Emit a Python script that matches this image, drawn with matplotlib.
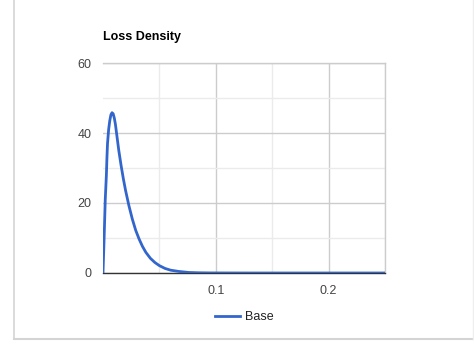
import matplotlib
matplotlib.use('Agg')
import matplotlib.pyplot as plt
from matplotlib.lines import Line2D

# loss values (x) and density (y)
loss = [0, 0.001, 0.002, 0.003, 0.0035, 0.004, 0.005, 0.006, 0.007, 0.008,
        0.009, 0.010, 0.011, 0.012, 0.013, 0.014, 0.016, 0.018, 0.020, 0.023,
        0.026, 0.029, 0.032, 0.035, 0.038, 0.042, 0.046, 0.050, 0.055, 0.060,
        0.067, 0.076, 0.085, 0.095, 0.110, 0.130, 0.160, 0.200, 0.250]
density = [0, 10, 21, 28, 33, 37, 41, 43.5, 45.2, 45.8,
           45.5, 44.3, 42.5, 40, 37.5, 35, 30.8, 27.0, 23.6, 19.2,
           15.4, 12.2, 9.7, 7.6, 5.9, 4.2, 3.0, 2.1, 1.3, 0.8,
           0.45, 0.15, 0.06, 0.02, 0.01, 0, 0, 0, 0]
series_name = 'Base'
title = 'Loss Density'
x_ticks = [0.1, 0.2]
x_minor = [0.05, 0.15, 0.25]
y_ticks = [0, 20, 40, 60]
y_minor = [10, 30, 50]

plt.rcParams['font.family'] = ['Liberation Sans', 'DejaVu Sans']

fig = plt.figure(figsize=(4.74, 3.46), dpi=100)
ax = fig.add_axes([0.2173, 0.2110, 0.5949, 0.6069])

ax.plot(loss, density, color='#3366cc', lw=2, solid_capstyle='butt', zorder=4)

ax.set_xlim(0, 0.25)
ax.set_ylim(0, 60)
ax.set_xticks(x_ticks)
ax.set_xticklabels([str(t) for t in x_ticks])
ax.set_xticks(x_minor, minor=True)
ax.set_yticks(y_ticks)
ax.set_yticks(y_minor, minor=True)
ax.grid(which='major', color='#cccccc', lw=1)
ax.grid(which='minor', color='#ebebeb', lw=1)
ax.set_axisbelow(True)
ax.tick_params(which='both', length=0)
ax.tick_params(axis='y', pad=8.5, labelsize=9, labelcolor='#444444')
ax.tick_params(axis='x', pad=9, labelsize=9, labelcolor='#444444')
for s in ['top', 'right', 'left']:
    ax.spines[s].set_color('#cccccc')
    ax.spines[s].set_linewidth(1)
ax.spines['left'].set_visible(False)
ax.spines['bottom'].set_color('#333333')
ax.spines['bottom'].set_linewidth(1)
ax.spines['bottom'].set_zorder(3)

fig.text(103 / 474, 1 - 37 / 346, title, fontsize=9, fontweight='bold',
         color='#000000', va='center', ha='left')

handle = Line2D([], [], color='#3366cc', lw=2)
fig.legend([handle], [series_name], loc='center', bbox_to_anchor=(244 / 474, 1 - 317 / 346),
           frameon=False, fontsize=9, handlelength=2.0, handletextpad=0.4, labelcolor='#222222')

# light border of the screenshot
fig.add_artist(Line2D([14 / 474, 14 / 474], [1 - 339 / 346, 1], color='#d4d4d4', lw=1.2))
fig.add_artist(Line2D([14 / 474, 1], [1 - 339 / 346, 1 - 339 / 346], color='#d4d4d4', lw=1.5))
fig.add_artist(Line2D([473 / 474, 473 / 474], [1 - 339 / 346, 1], color='#eeeeee', lw=1))

fig.savefig('out.png', dpi=100)
